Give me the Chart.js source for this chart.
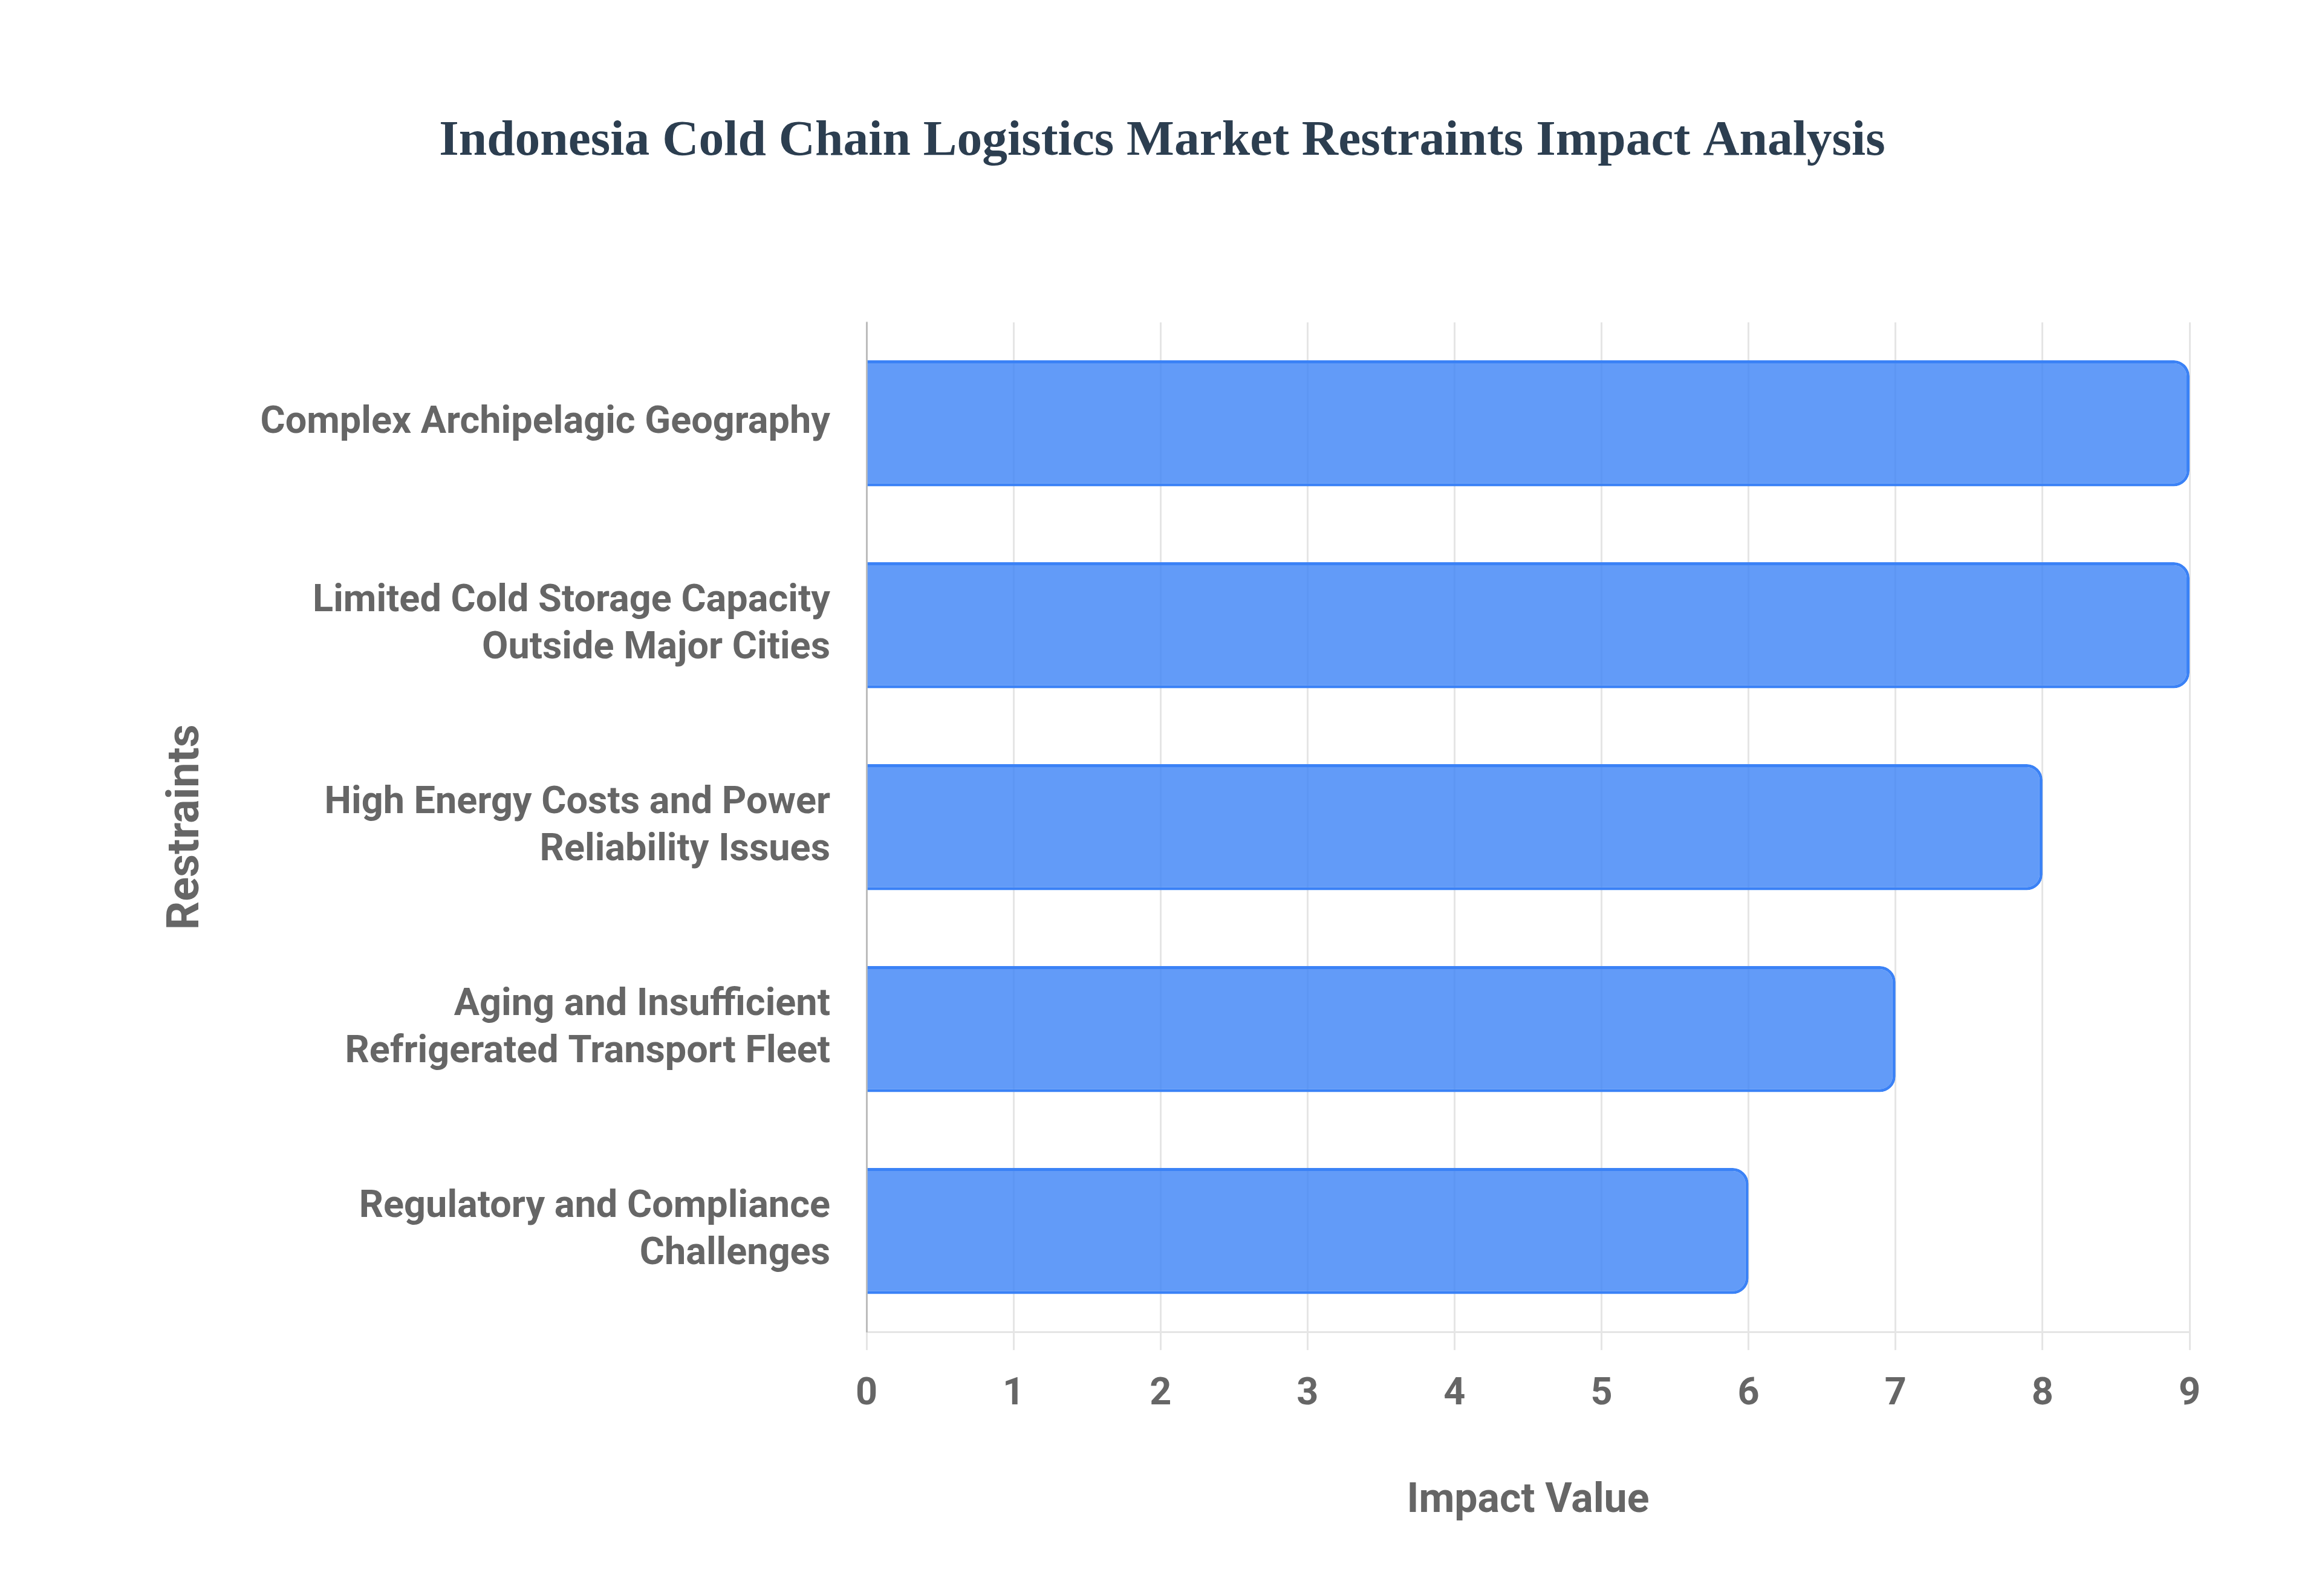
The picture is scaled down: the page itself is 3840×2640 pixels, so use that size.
<!DOCTYPE html>
<html>
<head>
<meta charset="utf-8">
<title>Indonesia Cold Chain Logistics Market Restraints Impact Analysis</title>
<script src="https://cdn.jsdelivr.net/npm/chart.js@4.4.1/dist/chart.umd.min.js"></script>
<style>
  html, body { margin: 0; padding: 0; background: #ffffff; }
  #wrap { width: 3840px; height: 2640px; position: relative; }
</style>
</head>
<body>
<div id="wrap"><canvas id="restraintsChart"></canvas></div>
<script>
const restraints = [
    ["Complex Archipelagic Geography"],
    ["Limited Cold Storage Capacity", "Outside Major Cities"],
    ["High Energy Costs and Power", "Reliability Issues"],
    ["Aging and Insufficient", "Refrigerated Transport Fleet"],
    ["Regulatory and Compliance", "Challenges"],
];
const impactValues = [9, 9, 8, 7, 6];
const impactTicks = [0, 1, 2, 3, 4, 5, 6, 7, 8, 9];

const chartTitle = "Indonesia Cold Chain Logistics Market Restraints Impact Analysis";
const xTitle = "Impact Value";
const yTitle = "Restraints";

const ctx = document.getElementById("restraintsChart").getContext("2d");

const data = {
    labels: restraints,
    datasets: [{
        label: "Impact Value",
        data: impactValues,
        backgroundColor: "rgba(59, 130, 246, 0.8)",
        borderColor: "#3b82f6",
        borderWidth: 5,
        borderRadius: 26,
        borderSkipped: "start",
        barPercentage: 0.78,
        categoryPercentage: 0.8,
    }],
};

const tickFont = { family: "Roboto", size: 63, weight: "bold", lineHeight: 1.24 };

const config = {
    type: "bar",
    data: data,
    options: {
        indexAxis: "y",
        responsive: true,
        maintainAspectRatio: false,
        devicePixelRatio: 1,
        animation: false,
        layout: {
            padding: { top: 52, left: 223, right: 219, bottom: 95 },
        },
        plugins: {
            legend: { display: false },
            tooltip: { enabled: false },
            title: {
                display: true,
                text: chartTitle,
                color: "#2c3e50",
                font: { family: "'Liberation Serif', 'Times New Roman', serif", size: 83.5, weight: "bold", lineHeight: 1.2 },
                padding: { top: 132, bottom: 249 },
            },
        },
        scales: {
            x: {
                min: 0,
                max: impactTicks[impactTicks.length - 1],
                afterBuildTicks: function(scale) {
                    scale.ticks = impactTicks.map(function(v) { return { value: v }; });
                },
                grid: {
                    color: "rgba(0, 0, 0, 0.1)",
                    lineWidth: 3,
                    drawTicks: true,
                    tickLength: 30,
                },
                border: { display: true, color: "rgba(0, 0, 0, 0.1)", width: 3 },
                ticks: {
                    color: "#666666",
                    font: tickFont,
                    padding: 35,
                },
                title: {
                    display: true,
                    text: xTitle,
                    color: "#666666",
                    font: { family: "Roboto", size: 68, weight: "bold", lineHeight: 1.2 },
                    padding: { top: 62, bottom: 20 },
                },
            },
            y: {
                afterFit: function(scale) {
                    scale.width = 1210;
                },
                grid: { display: false, drawTicks: false, tickLength: 0 },
                border: { display: true, color: "rgba(0, 0, 0, 0.18)", width: 3 },
                ticks: {
                    color: "#666666",
                    font: tickFont,
                    padding: 60,
                },
                title: {
                    display: true,
                    text: yTitle,
                    color: "#666666",
                    font: { family: "Roboto", size: 74, weight: "bold", lineHeight: 1.2 },
                    padding: { top: 42, bottom: 20 },
                },
            },
        },
    },
};

const restraintsChart = new Chart(ctx, config);
</script>
</body>
</html>
